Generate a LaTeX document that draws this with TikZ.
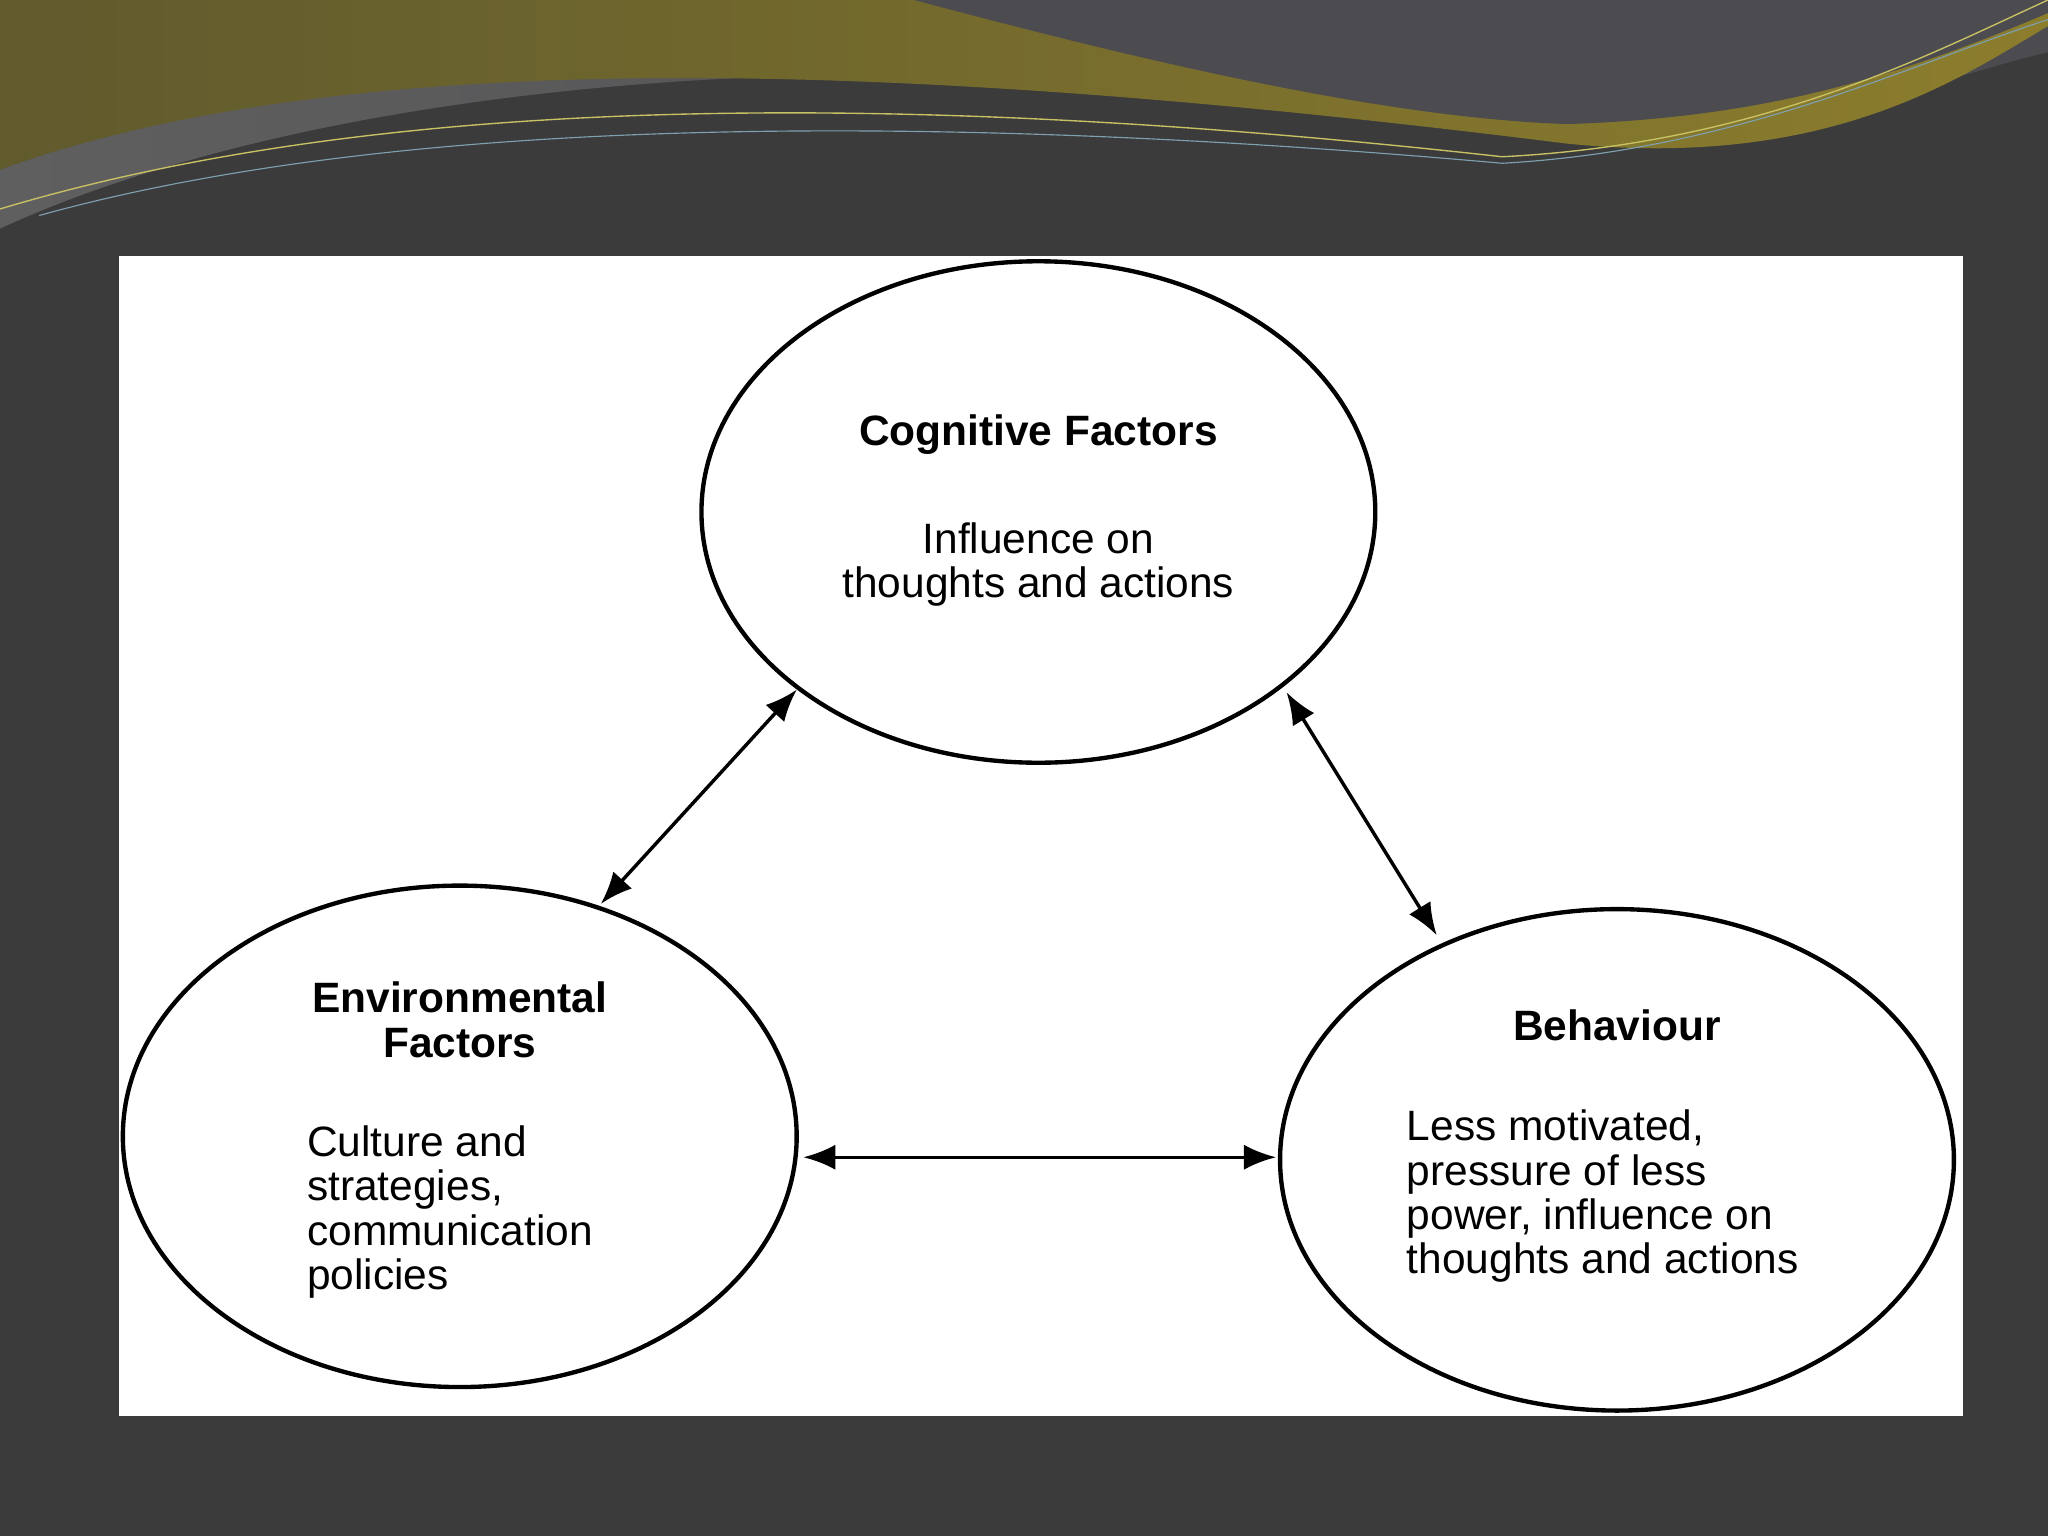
\documentclass[tikz,border=0pt]{standalone}
\usepackage{fontspec}
\setmainfont{Liberation Sans}
\usetikzlibrary{shapes.geometric,arrows.meta}
\definecolor{olv1}{RGB}{96,90,45}
\definecolor{olv2}{RGB}{140,125,45}
\definecolor{gry1}{RGB}{95,95,95}
\definecolor{gry2}{RGB}{75,75,80}
\begin{document}
\begin{tikzpicture}[x=0.02cm,y=-0.02cm,
  circ/.style={draw,line width=1.9pt,ellipse,minimum width=10.32cm,minimum height=7.68cm},
  arr/.style={{Latex[length=14pt,width=11pt]}-{Latex[length=14pt,width=11pt]},line width=1.5pt},
  ttl/.style={font=\fontsize{18.5}{19.5}\selectfont\bfseries,align=center},
  bdy/.style={font=\fontsize{18.5}{19.3}\selectfont}]
\useasboundingbox (0,0) rectangle (1568,1176);
\fill[black!77] (0,0) rectangle (1568,1176);
% top band
\shade[left color=gry1, right color=gry2] (0,0) -- (0,175) .. controls (250,60) and (700,20) .. (1150,95) .. controls (1350,120) and (1480,60) .. (1568,40) -- (1568,0) -- cycle;
\shade[left color=olv1, right color=olv2] (0,0) -- (0,130) .. controls (300,20) and (800,60) .. (1200,110) .. controls (1400,130) and (1500,60) .. (1568,20) -- (1568,0) -- cycle;
\fill[gry2] (700,0) .. controls (850,40) and (1050,90) .. (1200,95) .. controls (1350,90) and (1450,60) .. (1568,10) -- (1568,0) -- cycle;
\draw[yellow!50!gray,line width=0.6pt] (0,160) .. controls (300,70) and (700,70) .. (1150,120) .. controls (1350,110) and (1480,40) .. (1568,0);
\draw[cyan!30!gray,line width=0.5pt] (30,165) .. controls (300,90) and (700,85) .. (1150,125) .. controls (1330,115) and (1460,50) .. (1568,15);
% panel
\fill[white] (91,196) rectangle (1503,1084);
\node[circ] (cog) at (795,392) {};
\node[circ] (env) at (352,870) {};
\node[circ] (beh) at (1238,888) {};
\node[ttl] (cogt) at (795,333) {Cognitive Factors};
\node[bdy,align=center] (cogb) at (795,432) {Influence on\\thoughts and actions};
\node[ttl] (envt) at (352,781) {Environmental\\Factors};
\node[bdy,align=left,anchor=west] (envb) at (229,928) {Culture and\\strategies,\\communication\\policies};
\node[ttl] (beht) at (1238,785) {Behaviour};
\node[bdy,align=left,anchor=west] (behb) at (1071,916) {Less motivated,\\pressure of less\\power, influence on\\thoughts and actions};
\coordinate (a1) at (610,528); \coordinate (a2) at (460,692);
\coordinate (b1) at (985,530); \coordinate (b2) at (1100,716);
\coordinate (c1) at (615,886); \coordinate (c2) at (977,886);
\draw[arr] (a1) -- (a2);
\draw[arr] (b1) -- (b2);
\draw[arr] (c1) -- (c2);
\end{tikzpicture}
\end{document}
